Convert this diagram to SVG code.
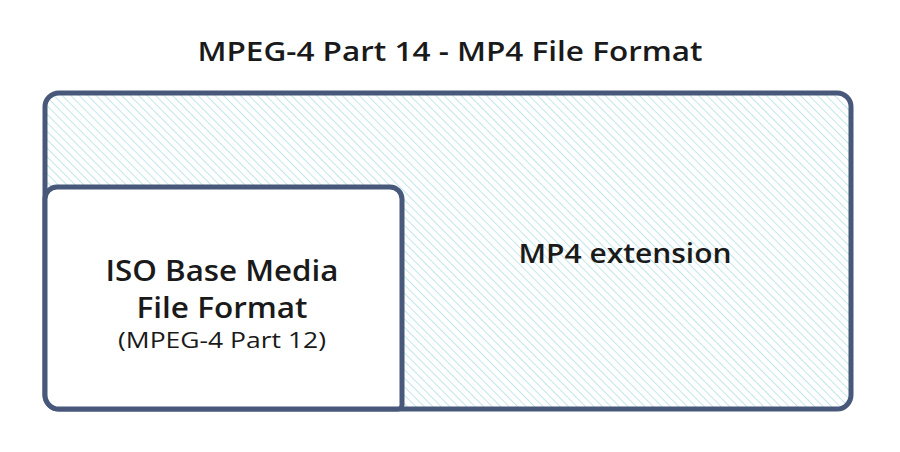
<svg xmlns="http://www.w3.org/2000/svg" width="900" height="452" viewBox="0 0 900 452">
  <defs>
    <pattern id="hatch" patternUnits="userSpaceOnUse" width="6" height="6" patternTransform="rotate(-45)">
      <rect width="6" height="6" fill="#ffffff"/>
      <line x1="0" y1="0" x2="0" y2="6" stroke="#b3dfe8" stroke-width="1.6"/>
    </pattern>
  </defs>
  <style>
    .box { stroke: #47587a; stroke-width: 5; }
    .t { font-family: "Open Sans", Lato, "Liberation Sans", sans-serif; fill: #1a1a1a; text-anchor: middle; }
    .b { font-weight: 600; }
  </style>
  <rect width="900" height="452" fill="#ffffff"/>
  <text class="t b" x="450" y="61" font-size="27" textLength="505" lengthAdjust="spacingAndGlyphs">MPEG-4 Part 14 - MP4 File Format</text>
  <g id="mp4">
    <rect class="box" x="45" y="93" width="806" height="316" rx="14" fill="url(#hatch)"/>
    <text class="t b" x="625" y="263" font-size="27" textLength="213" lengthAdjust="spacingAndGlyphs">MP4 extension</text>
  </g>
  <g id="isobmff">
    <path class="box" fill="#ffffff" d="M45,199 A12,12 0 0 1 57,187 L390,187 A12,12 0 0 1 402,199 L402,405 A4,4 0 0 1 398,409 L59,409 A14,14 0 0 1 45,395 Z"/>
    <text class="t b" x="222" y="281" font-size="28" textLength="233" lengthAdjust="spacingAndGlyphs">ISO Base Media</text>
    <text class="t b" x="222" y="318" font-size="28" textLength="171" lengthAdjust="spacingAndGlyphs">File Format</text>
    <text class="t" x="222" y="348" font-size="22" textLength="208" lengthAdjust="spacingAndGlyphs">(MPEG-4 Part 12)</text>
  </g>
  <g id="connectors"/>
</svg>
